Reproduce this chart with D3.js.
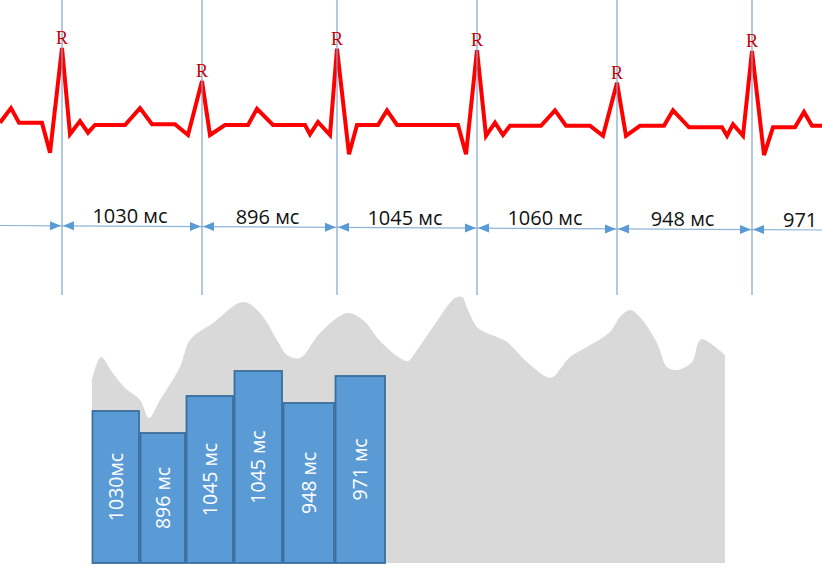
<!DOCTYPE html>
<html>
<head>
<meta charset="utf-8">
<script src="https://cdn.jsdelivr.net/npm/d3@7"></script>
<style>
  html, body { margin: 0; padding: 0; background: #fff; overflow: hidden; }
  svg { display: block; }
</style>
</head>
<body>
<svg id="chart"></svg>
<script>
// ECG trace: sample position (same units as the page width) and amplitude (mV)
const ecgT = [0, 11, 19, 42, 50, 62, 70, 80, 88, 95, 125, 140, 152, 175, 188, 202, 210, 225, 248, 257,
  273, 305, 310, 318, 330, 337, 349, 357, 378, 387, 397, 458, 466, 477, 486, 495, 503, 510, 541, 555,
  566, 590, 603, 617, 626, 640, 664, 673, 689, 722, 727, 733, 743, 752, 764, 773, 795, 804, 812, 822];
const ecgV = [0.03, 0.22, 0.03, 0.03, -0.36, 1.00, -0.12, 0.05, -0.10, 0, 0, 0.22, 0.01, 0.01, -0.13, 0.57, -0.13, 0, 0, 0.21,
  0, 0, -0.12, 0.04, -0.13, 0.99, -0.38, 0, 0, 0.19, 0, 0, -0.38, 0.97, -0.14, 0.03, -0.13, -0.01, -0.01, 0.19,
  -0.01, -0.01, -0.14, 0.55, -0.14, -0.01, -0.01, 0.19, -0.03, -0.03, -0.14, 0.01, -0.14, 0.96, -0.39, -0.03, -0.03, 0.17, -0.01, -0.01];

// R peaks (last one lies beyond the right edge)
const rTimes = [62, 202, 337, 477, 617, 752, 870];
const rAmps = [1.00, 0.57, 0.99, 0.97, 0.55, 0.96];
const intervalLabels = ["1030 мс", "896 мс", "1045 мс", "1060 мс", "948 мс", "971"];

// bar panel
const barLabels = ["1030мс", "896 мс", "1045 мс", "1045 мс", "948 мс", "971 мс"];
const barEdges = [92, 140, 186, 234, 283, 335, 386];
const barValues = [152, 130, 167, 192, 160, 187];

// grey background profile
const bgT = [92, 101, 112, 125, 140, 149, 160, 180, 190, 213, 243, 260, 277, 287, 300, 320, 347, 363, 380, 400,
  408, 417, 433, 455, 462, 468, 478, 497, 507, 527, 547, 553, 570, 587, 610, 620, 630, 640, 657, 667,
  677, 692, 698, 702, 725];
const bgV = [183, 206, 191, 175, 163, 145, 163, 196, 223, 240, 261, 250, 223, 208, 205, 230, 250, 243, 222, 205,
  202, 213, 236, 265, 266, 253, 235, 226, 221, 201, 186, 186, 206, 216, 231, 246, 253, 246, 220, 196,
  193, 201, 220, 224, 208];

const width = 822, height = 588;
const svg = d3.select("#chart").attr("width", width).attr("height", height);

const x = d3.scaleLinear().domain([0, 822]).range([0, width]);
const yEcg = d3.scaleLinear().domain([0, 1]).range([125, 48]);
const yBar = d3.scaleLinear().domain([0, 270]).range([563, 293]);
const arrowY = d3.scaleLinear().domain([0, 822]).range([225.5, 230]);

const blue = "#5b9bd5";

// grey area
const bg = bgT.map((t, i) => ({ t, v: bgV[i] }));
svg.append("path")
  .datum(bg)
  .attr("fill", "#d9d9d9")
  .attr("d", d3.area()
    .x(d => x(d.t))
    .y0(yBar(0))
    .y1(d => yBar(d.v))
    .curve(d3.curveCatmullRom.alpha(0.5)));

// bars
const bars = barValues.map((v, i) => ({ v, x0: barEdges[i], x1: barEdges[i + 1], label: barLabels[i] }));
svg.selectAll("rect.bar")
  .data(bars)
  .join("rect")
  .attr("class", "bar")
  .attr("x", d => x(d.x0) + 0.5)
  .attr("width", d => x(d.x1) - x(d.x0) - 1.5)
  .attr("y", d => yBar(d.v))
  .attr("height", d => yBar(0) - yBar(d.v))
  .attr("fill", blue)
  .attr("stroke", "#3a6e9f")
  .attr("stroke-width", 1.8);

svg.selectAll("text.barlabel")
  .data(bars)
  .join("text")
  .attr("class", "barlabel")
  .attr("transform", d => `translate(${(x(d.x0) + x(d.x1)) / 2},${(yBar(d.v) + yBar(0)) / 2}) rotate(-90)`)
  .attr("text-anchor", "middle")
  .attr("dy", "0.35em")
  .attr("fill", "#fff")
  .style("font", "19.5px 'Open Sans', sans-serif")
  .text(d => d.label);

// ECG trace
const ecg = ecgT.map((t, i) => ({ t, v: ecgV[i] }));
svg.append("path")
  .datum(ecg)
  .attr("fill", "none")
  .attr("stroke", "#ff0000")
  .attr("stroke-width", 4)
  .attr("stroke-linejoin", "miter")
  .attr("stroke-miterlimit", 3)
  .attr("d", d3.line().x(d => x(d.t)).y(d => yEcg(d.v)));

// vertical markers through R peaks
svg.selectAll("line.rline")
  .data(rTimes.slice(0, 6))
  .join("line")
  .attr("class", "rline")
  .attr("x1", d => x(d)).attr("x2", d => x(d))
  .attr("y1", 0).attr("y2", 295)
  .attr("stroke", "#7fa6cc")
  .attr("stroke-width", 1.2);

// R labels
svg.selectAll("text.rlabel")
  .data(rAmps)
  .join("text")
  .attr("class", "rlabel")
  .attr("x", (d, i) => x(rTimes[i]))
  .attr("y", d => yEcg(d) - 4)
  .attr("text-anchor", "middle")
  .attr("fill", "#c00000")
  .style("font", "18px 'Liberation Serif', 'Times New Roman', serif")
  .text("R");

// interval arrows
const segs = [{ a: -40, b: rTimes[0] }].concat(rTimes.slice(0, -1).map((t, i) => ({ a: t, b: rTimes[i + 1], label: intervalLabels[i] })));
const aw = 11, ah = 4.5;
const g = svg.append("g");
segs.forEach((s, i) => {
  const xa = x(s.a), xb = x(s.b), ya = arrowY(s.a), yb = arrowY(s.b);
  g.append("line")
    .attr("x1", xa).attr("y1", ya).attr("x2", xb).attr("y2", yb)
    .attr("stroke", "#8fb4d9").attr("stroke-width", 1.2);
  // left head pointing left
  g.append("path")
    .attr("d", `M${xa + 1},${ya} L${xa + 1 + aw},${ya - ah} L${xa + 1 + aw},${ya + ah} Z`)
    .attr("fill", blue);
  // right head pointing right
  g.append("path")
    .attr("d", `M${xb - 1},${yb} L${xb - 1 - aw},${yb - ah} L${xb - 1 - aw},${yb + ah} Z`)
    .attr("fill", blue);
  if (s.label) {
    const last = i === segs.length - 1;
    g.append("text")
      .attr("x", last ? xa + 31 : (xa + xb) / 2 - 2)
      .attr("y", (ya + yb) / 2 - 3)
      .attr("text-anchor", last ? "start" : "middle")
      .attr("fill", "#111")
      .style("font", "20px 'Open Sans', sans-serif")
      .text(s.label);
  }
});
</script>
</body>
</html>
